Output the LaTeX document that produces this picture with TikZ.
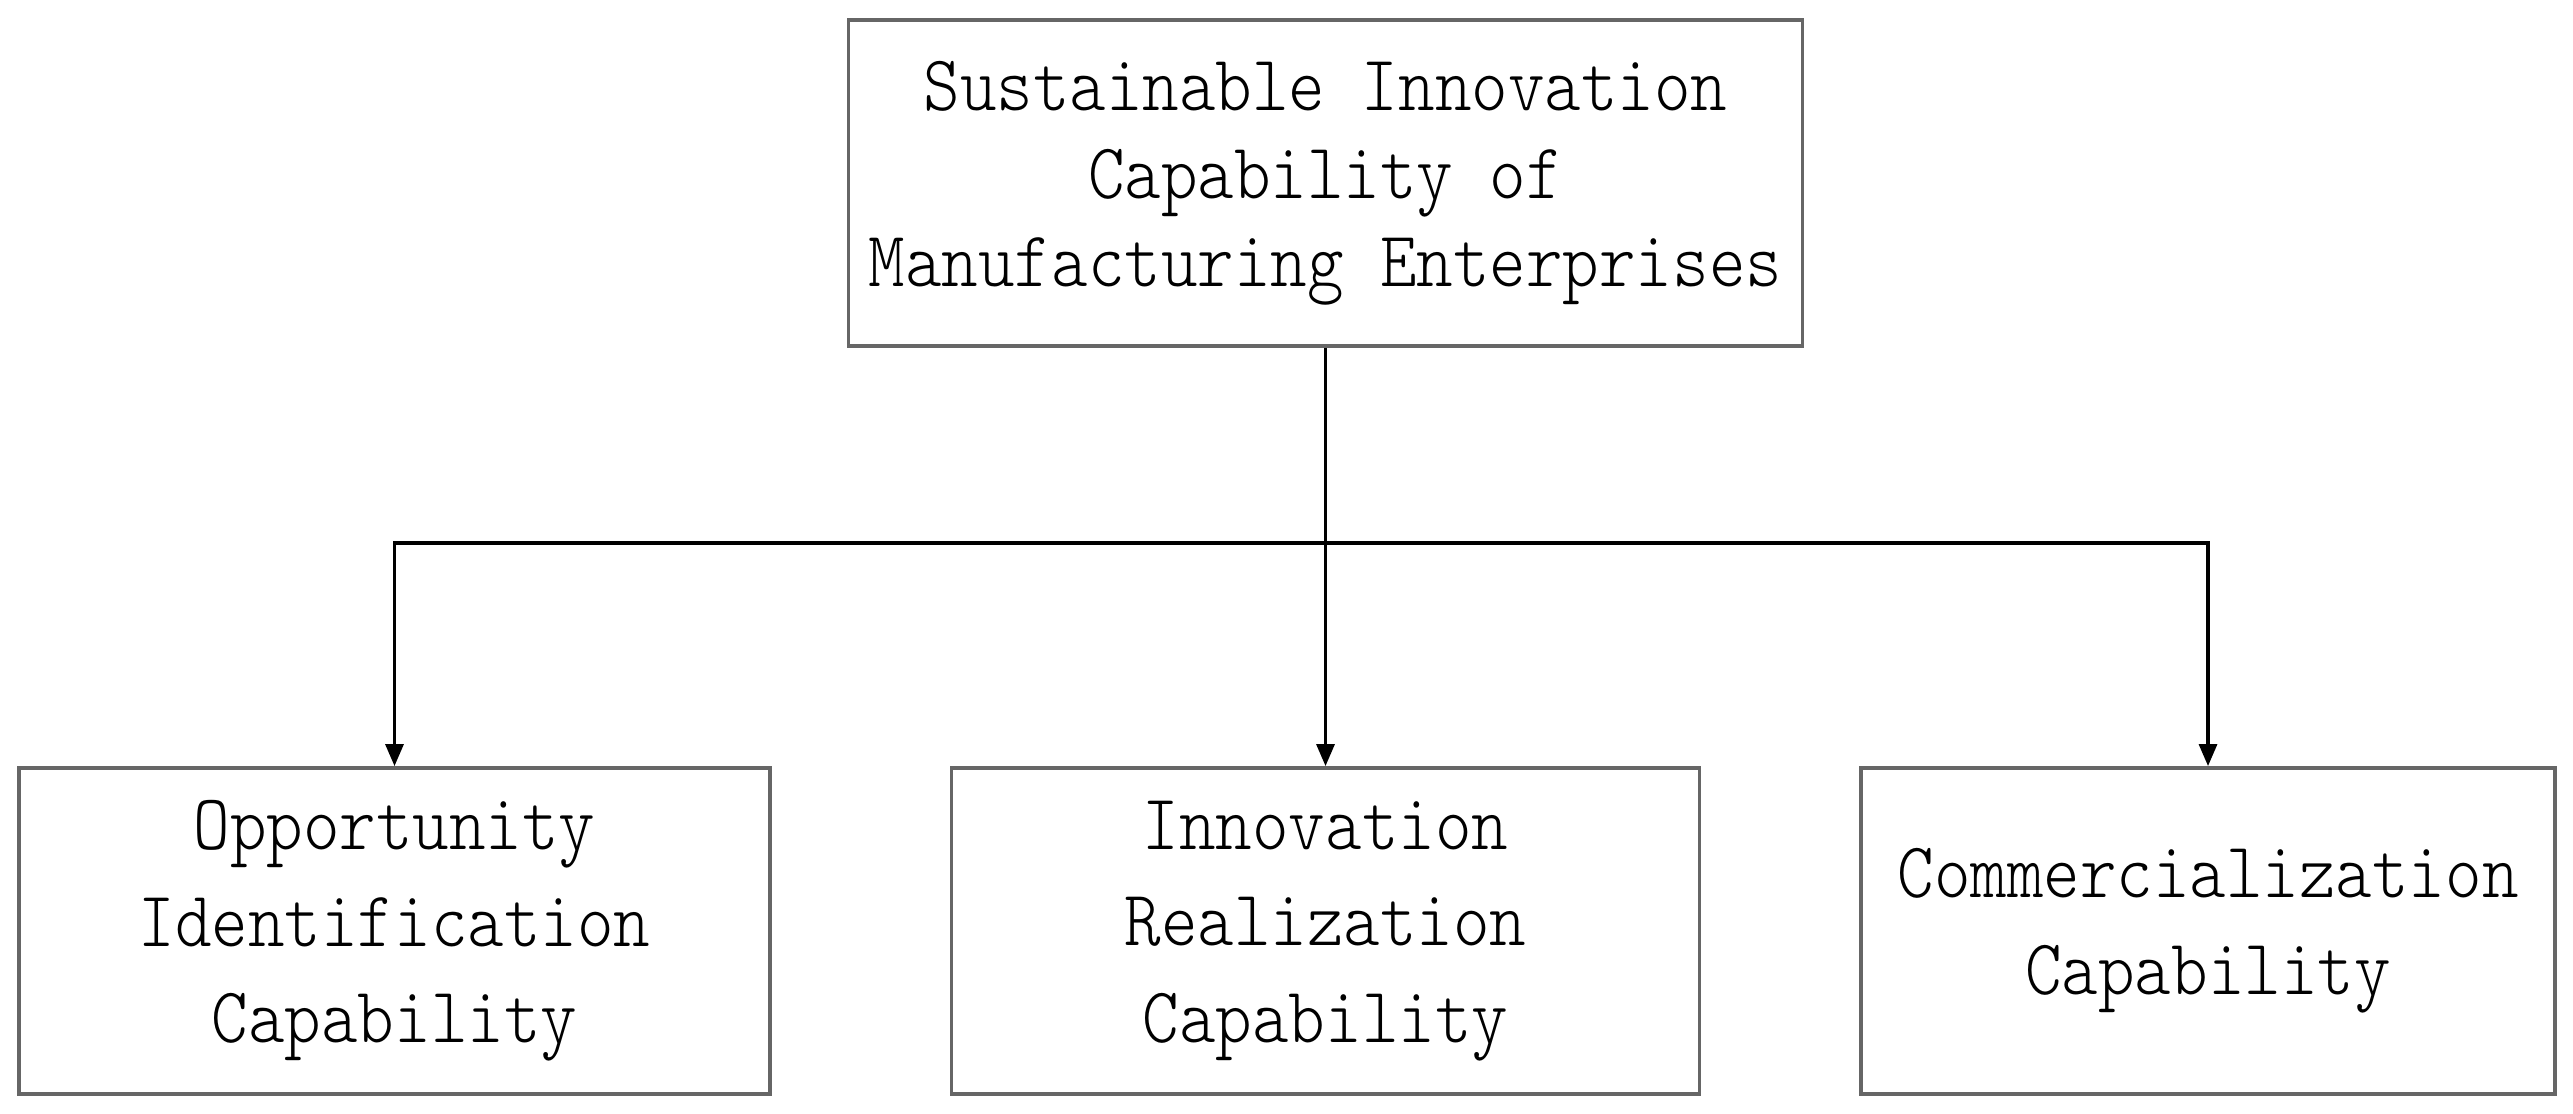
\documentclass[tikz,border=0pt]{standalone}
\usepackage{fontspec}
\newfontfamily\boxfont[FakeStretch=0.88]{Latin Modern Mono Light}
\usetikzlibrary{arrows.meta}
\tikzset{
  capbox/.style={draw=black!60, line width=1.1pt, align=center, inner sep=0pt,
    text=black},
  topfont/.style={font=\boxfont\fontsize{22.5}{25}\selectfont},
  subfont/.style={font=\boxfont\fontsize{22.5}{27.5}\selectfont},
  link/.style={draw=black, line width=0.9pt},
  arr/.style={link, -{Triangle[length=0.22cm,width=0.18cm]}}
}
\begin{document}
\begin{tikzpicture}
\useasboundingbox (0,0) rectangle (25.73,11.13);
\node[capbox, topfont, minimum width=9.54cm, minimum height=3.26cm] (top) at (13.255,9.30)
  {Sustainable Innovation\\Capability of\\Manufacturing Enterprises};
\node[capbox, subfont, minimum width=7.51cm, minimum height=3.26cm] (L) at (3.945,1.82)
  {Opportunity\\Identification\\Capability};
\node[capbox, subfont, minimum width=7.48cm, minimum height=3.26cm] (M) at (13.255,1.82)
  {Innovation\\Realization\\Capability};
\node[capbox, subfont, minimum width=6.94cm, minimum height=3.26cm] (R) at (22.08,1.82)
  {Commercialization\\Capability};
\coordinate (jc) at (13.255,5.70);
\draw[link] (top.south) -- (jc);
\draw[arr] (jc) -| (L.north);
\draw[arr] (jc) -- (M.north);
\draw[arr] (jc) -| (R.north);
\end{tikzpicture}
\end{document}
